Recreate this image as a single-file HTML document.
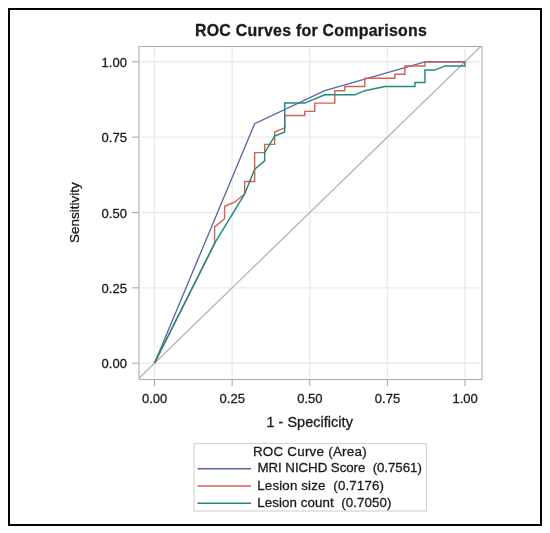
<!DOCTYPE html>
<html><head><meta charset="utf-8"><style>
html,body{margin:0;padding:0;background:#fff;width:550px;height:533px;overflow:hidden}
svg{display:block;font-family:"Liberation Sans",sans-serif;will-change:transform}
</style></head><body>
<svg width="550" height="533" viewBox="0 0 550 533">
<rect x="9" y="9" width="532" height="516" fill="none" stroke="#000" stroke-width="2"/>
<line x1="154.50" y1="47.5" x2="154.50" y2="378.5" stroke="#ebebeb" stroke-width="1.4"/>
<line x1="232.12" y1="47.5" x2="232.12" y2="378.5" stroke="#ebebeb" stroke-width="1.4"/>
<line x1="309.75" y1="47.5" x2="309.75" y2="378.5" stroke="#ebebeb" stroke-width="1.4"/>
<line x1="387.38" y1="47.5" x2="387.38" y2="378.5" stroke="#ebebeb" stroke-width="1.4"/>
<line x1="465.00" y1="47.5" x2="465.00" y2="378.5" stroke="#ebebeb" stroke-width="1.4"/>
<line x1="141.0" y1="363.20" x2="480.0" y2="363.20" stroke="#ebebeb" stroke-width="1.4"/>
<line x1="141.0" y1="287.85" x2="480.0" y2="287.85" stroke="#ebebeb" stroke-width="1.4"/>
<line x1="141.0" y1="212.50" x2="480.0" y2="212.50" stroke="#ebebeb" stroke-width="1.4"/>
<line x1="141.0" y1="137.15" x2="480.0" y2="137.15" stroke="#ebebeb" stroke-width="1.4"/>
<line x1="141.0" y1="61.80" x2="480.0" y2="61.80" stroke="#ebebeb" stroke-width="1.4"/>
<line x1="139.0" y1="378.25" x2="480.76" y2="46.50" stroke="#b0b5b9" stroke-width="1.3"/>
<path d="M154.50,363.20 L254.66,123.73 L324.77,90.70 L424.94,61.80 L465.00,61.80" fill="none" stroke="#5566a8" stroke-width="1.3" stroke-linejoin="miter"/>
<path d="M154.50,363.20 L214.60,243.47 L214.60,226.95 L224.61,218.69 L224.61,206.31 L234.63,202.18 L244.65,193.92 L244.65,181.53 L254.66,181.53 L254.66,152.63 L264.68,152.63 L264.68,144.38 L274.69,144.38 L274.69,131.99 L284.71,127.86 L284.71,115.47 L304.74,115.47 L304.74,111.35 L314.76,111.35 L314.76,103.09 L334.79,103.09 L334.79,90.70 L344.81,90.70 L344.81,86.57 L364.84,86.57 L364.84,78.32 L394.89,78.32 L394.89,74.19 L404.90,74.19 L404.90,65.93 L424.94,65.93 L424.94,61.80 L465.00,61.80" fill="none" stroke="#d65f50" stroke-width="1.4" stroke-linejoin="miter"/>
<path d="M154.50,363.20 L214.60,243.47 L244.65,193.92 L254.66,169.15 L264.68,160.89 L264.68,152.63 L274.69,136.12 L284.71,131.99 L284.71,103.09 L304.74,103.09 L324.77,94.83 L354.82,94.83 L364.84,90.70 L384.87,86.57 L414.92,86.57 L414.92,82.44 L424.94,82.44 L424.94,70.06 L434.95,70.06 L444.97,65.93 L465.00,65.93 L465.00,61.80" fill="none" stroke="#1f8a7d" stroke-width="1.45" stroke-linejoin="miter"/>
<path d="M424.94,61.80 L465.00,61.80" fill="none" stroke="#5566a8" stroke-opacity="0.35" stroke-width="1.3"/>
<rect x="139.0" y="46.5" width="343.0" height="333.0" fill="none" stroke="#a6adb1" stroke-width="1.1"/>
<line x1="132.0" y1="363.20" x2="139.0" y2="363.20" stroke="#a6adb1" stroke-width="1.1"/>
<line x1="132.0" y1="287.85" x2="139.0" y2="287.85" stroke="#a6adb1" stroke-width="1.1"/>
<line x1="132.0" y1="212.50" x2="139.0" y2="212.50" stroke="#a6adb1" stroke-width="1.1"/>
<line x1="132.0" y1="137.15" x2="139.0" y2="137.15" stroke="#a6adb1" stroke-width="1.1"/>
<line x1="132.0" y1="61.80" x2="139.0" y2="61.80" stroke="#a6adb1" stroke-width="1.1"/>
<line x1="154.50" y1="379.5" x2="154.50" y2="386.0" stroke="#a6adb1" stroke-width="1.1"/>
<line x1="232.12" y1="379.5" x2="232.12" y2="386.0" stroke="#a6adb1" stroke-width="1.1"/>
<line x1="309.75" y1="379.5" x2="309.75" y2="386.0" stroke="#a6adb1" stroke-width="1.1"/>
<line x1="387.38" y1="379.5" x2="387.38" y2="386.0" stroke="#a6adb1" stroke-width="1.1"/>
<line x1="465.00" y1="379.5" x2="465.00" y2="386.0" stroke="#a6adb1" stroke-width="1.1"/>
<rect x="194" y="443.5" width="232.5" height="67.5" fill="none" stroke="#d4d4d4" stroke-width="1.2"/>
<line x1="197.5" y1="468.70" x2="251" y2="468.70" stroke="#5566a8" stroke-width="1.6"/>
<line x1="197.5" y1="485.95" x2="251" y2="485.95" stroke="#d65f50" stroke-width="1.6"/>
<line x1="197.5" y1="503.20" x2="251" y2="503.20" stroke="#1f8a7d" stroke-width="1.6"/>
<text x="195.00" y="36.00" font-size="15.9" font-weight="bold" textLength="231.77" lengthAdjust="spacing" fill="#1a1a1a" stroke="#1a1a1a" stroke-width="0.3">ROC Curves for Comparisons</text>
<text x="101.60" y="368.20" font-size="13" fill="#1a1a1a" stroke="#1a1a1a" stroke-width="0.3">0.00</text>
<text x="141.95" y="402.60" font-size="13" fill="#1a1a1a" stroke="#1a1a1a" stroke-width="0.3">0.00</text>
<text x="101.60" y="292.95" font-size="13" fill="#1a1a1a" stroke="#1a1a1a" stroke-width="0.3">0.25</text>
<text x="219.57" y="402.60" font-size="13" fill="#1a1a1a" stroke="#1a1a1a" stroke-width="0.3">0.25</text>
<text x="101.60" y="217.70" font-size="13" fill="#1a1a1a" stroke="#1a1a1a" stroke-width="0.3">0.50</text>
<text x="297.20" y="402.60" font-size="13" fill="#1a1a1a" stroke="#1a1a1a" stroke-width="0.3">0.50</text>
<text x="101.60" y="142.45" font-size="13" fill="#1a1a1a" stroke="#1a1a1a" stroke-width="0.3">0.75</text>
<text x="374.82" y="402.60" font-size="13" fill="#1a1a1a" stroke="#1a1a1a" stroke-width="0.3">0.75</text>
<text x="101.60" y="67.20" font-size="13" fill="#1a1a1a" stroke="#1a1a1a" stroke-width="0.3">1.00</text>
<text x="452.45" y="402.60" font-size="13" fill="#1a1a1a" stroke="#1a1a1a" stroke-width="0.3">1.00</text>
<text x="266.40" y="427.20" font-size="14.4" textLength="86.45" lengthAdjust="spacing" fill="#1a1a1a" stroke="#1a1a1a" stroke-width="0.3">1 - Specificity</text>
<text transform="translate(78.80,243.10) rotate(-90)" x="0" y="0" font-size="13.4" textLength="60.88" lengthAdjust="spacing" fill="#1a1a1a" stroke="#1a1a1a" stroke-width="0.3">Sensitivity</text>
<text x="252.90" y="456.20" font-size="13.4" textLength="113.72" lengthAdjust="spacing" fill="#1a1a1a" stroke="#1a1a1a" stroke-width="0.3">ROC Curve (Area)</text>
<text x="257.50" y="472.30" font-size="13.3" textLength="164.33" lengthAdjust="spacing" fill="#1a1a1a" stroke="#1a1a1a" stroke-width="0.3">MRI NICHD Score  (0.7561)</text>
<text x="257.30" y="489.50" font-size="13.3" textLength="126.65" lengthAdjust="spacing" fill="#1a1a1a" stroke="#1a1a1a" stroke-width="0.3">Lesion size  (0.7176)</text>
<text x="257.30" y="506.50" font-size="13.3" textLength="134.13" lengthAdjust="spacing" fill="#1a1a1a" stroke="#1a1a1a" stroke-width="0.3">Lesion count  (0.7050)</text>
</svg></body></html>
